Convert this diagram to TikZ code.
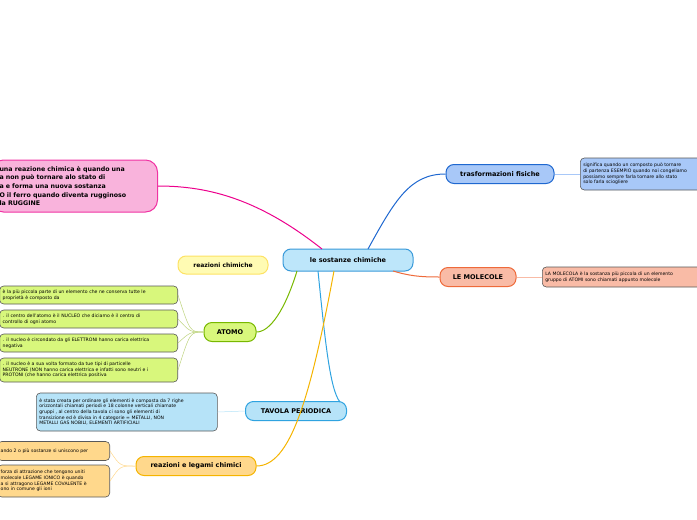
\documentclass[tikz,border=0pt]{standalone}
\usepackage{fontspec}
\setmainfont{DejaVu Sans}
\usetikzlibrary{positioning}
\definecolor{centerfill}{HTML}{BDE6FA}
\definecolor{centerline}{HTML}{3A9AD9}
\definecolor{fisfill}{HTML}{A8C8F8}
\definecolor{fisline}{HTML}{1F68D0}
\definecolor{molfill}{HTML}{F9BBA6}
\definecolor{molline}{HTML}{EE6A3A}
\definecolor{tavfill}{HTML}{B6E3F8}
\definecolor{tavline}{HTML}{2FA3E0}
\definecolor{legfill}{HTML}{FFD88C}
\definecolor{legline}{HTML}{F5B400}
\definecolor{atfill}{HTML}{D8F77C}
\definecolor{atline}{HTML}{78B800}
\tikzset{
topic/.style={draw, rounded corners=8pt, line width=1pt, font=\bfseries\fontsize{6.5}{7}\selectfont, inner xsep=8pt, inner ysep=0pt},
note/.style={draw=gray!70!black, rounded corners=4pt, line width=0.6pt, font=\fontsize{4.6}{5.6}\selectfont, align=left, inner sep=3pt, anchor=west},
link/.style={line width=1pt},
sub/.style={line width=0.5pt},
}
\begin{document}
\begin{tikzpicture}[x=1pt,y=-1pt]
\useasboundingbox (0,0) rectangle (697,520);
\clip (0,0) rectangle (697,520);
% main node
\node[topic, fill=centerfill, draw=centerline, minimum width=130pt, minimum height=22pt] (root) at (348,260) {le sostanze chimiche};
% topics
\node[topic, fill=fisfill, draw=fisline, minimum width=108pt, minimum height=19pt] (fis) at (500,174) {trasformazioni fisiche};
\node[topic, fill=molfill, draw=molline, minimum width=76pt, minimum height=19pt] (mol) at (478,277) {LE MOLECOLE};
\node[topic, fill=yellow!30, draw=yellow!70!orange!60, font=\fontsize{6}{7}\selectfont\bfseries, minimum width=90pt, minimum height=18pt] (rch) at (223,265) {reazioni chimiche};
\node[topic, fill=atfill, draw=atline, minimum width=52pt, minimum height=19pt] (atomo) at (230,332) {ATOMO};
\node[topic, fill=tavfill, draw=tavline, minimum width=101pt, minimum height=19pt] (tav) at (296,411) {TAVOLA PERIODICA};
\node[topic, fill=legfill, draw=legline, minimum width=120pt, minimum height=19pt] (leg) at (196,466) {reazioni e legami chimici};
\node[draw=magenta!80, fill=magenta!30, line width=1pt, rounded corners=12pt, font=\bfseries\fontsize{6.3}{8.6}\selectfont, align=left, minimum height=52pt, text width=150pt, inner xsep=8pt, anchor=east] (pink) at (158,186)
{una reazione chimica è quando una\\a non può tornare alo stato di\\a e forma una nuova sostanza\\O il ferro quando diventa rugginoso\\ la RUGGINE};
% notes
\node[note, fill=fisfill, text width=140pt, minimum height=32pt] (nfis) at (580,174) {significa quando un composto può tornare\\di partenza ESEMPIO quando noi congeliamo\\possiamo sempre farla tornare allo stato\\solo farla sciogliere};
\node[note, fill=molfill, text width=160pt, minimum height=20pt] (nmol) at (542,277) {LA MOLECOLA è la sostanza più piccola di un elemento\\gruppo di ATOMI sono chiamati appunto molecole};
\node[note, fill=tavfill, text width=175pt, minimum height=38pt] (ntav) at (36,412) {è stata creata per ordinare gli elementi è composta da 7 righe\\orizzontali chiamati periodi e 18 colonne verticali chiamate\\gruppi , al centro della tavola ci sono gli elementi di\\transizione ed è divisa in 4 categorie = METALLI, NON\\METALLI  GAS NOBILI,  ELEMENTI ARTIFICIALI};
\node[note, anchor=east, fill=atfill, text width=172pt, minimum height=18pt] (a1) at (178,295) {è la più piccola parte di un elemento che ne conserva tutte le\\proprietà è composto da};
\node[note, anchor=east, fill=atfill, text width=172pt, minimum height=18pt] (a2) at (178,319) {. il centro dell'atomo è il NUCLEO che diciamo è il centro di\\controllo di ogni atomo};
\node[note, anchor=east, fill=atfill, text width=172pt, minimum height=18pt] (a3) at (178,343) {. il nucleo è circondato da gli ELETTRONI hanno carica elettrica\\negativa};
\node[note, anchor=east, fill=atfill, text width=172pt, minimum height=24pt] (a4) at (178,370) {. il nucleo è a sua volta formato da tue tipi di particelle\\NEUTRONE (NON hanno carica elettrica e infatti sono neutri e i\\PROTONI (che hanno carica elettrica positiva};
\node[note, anchor=east, fill=legfill, text width=106pt, minimum height=19pt] (l1) at (110,451) {ando 2 o più sostanze si uniscono per\\};
\node[note, anchor=east, fill=legfill, text width=106pt, minimum height=32pt] (l2) at (110,481) {forza di attrazione che tengono uniti\\ molecole  LEGAME IONICO è quando\\a si attragono LEGAME COVALENTE  è\\ono in comune gli ioni};
% main connectors
\draw[link, magenta] (322,249) .. controls (260,200) and (210,186) .. (pink.east);
\draw[link, fisline] (368,249) .. controls (395,200) and (410,174) .. (fis.west);
\draw[link, molline] (393,271) .. controls (410,276) and (420,277) .. (mol.west);
\draw[link, atline] (297,271) .. controls (285,310) and (270,332) .. (atomo.east);
\draw[link, tavline] (318,271) .. controls (325,340) and (330,390) .. (340,402);
\draw[link, legline] (334,271) .. controls (310,400) and (290,466) .. (leg.east);
% sub connectors
\draw[sub, fisfill] (fis.east) -- (nfis.west);
\draw[sub, molfill] (mol.east) -- (nmol.west);
\draw[sub, tavfill] (tav.west) -- (ntav.east);
\foreach \n in {a1,a2,a3,a4}
  \draw[sub, atfill!70!gray] (atomo.west) .. controls (190,332) and (190,332) .. (\n.east);
\foreach \n in {l1,l2}
  \draw[sub, legfill] (leg.west) .. controls (120,466) and (120,466) .. (\n.east);
\end{tikzpicture}
\end{document}
